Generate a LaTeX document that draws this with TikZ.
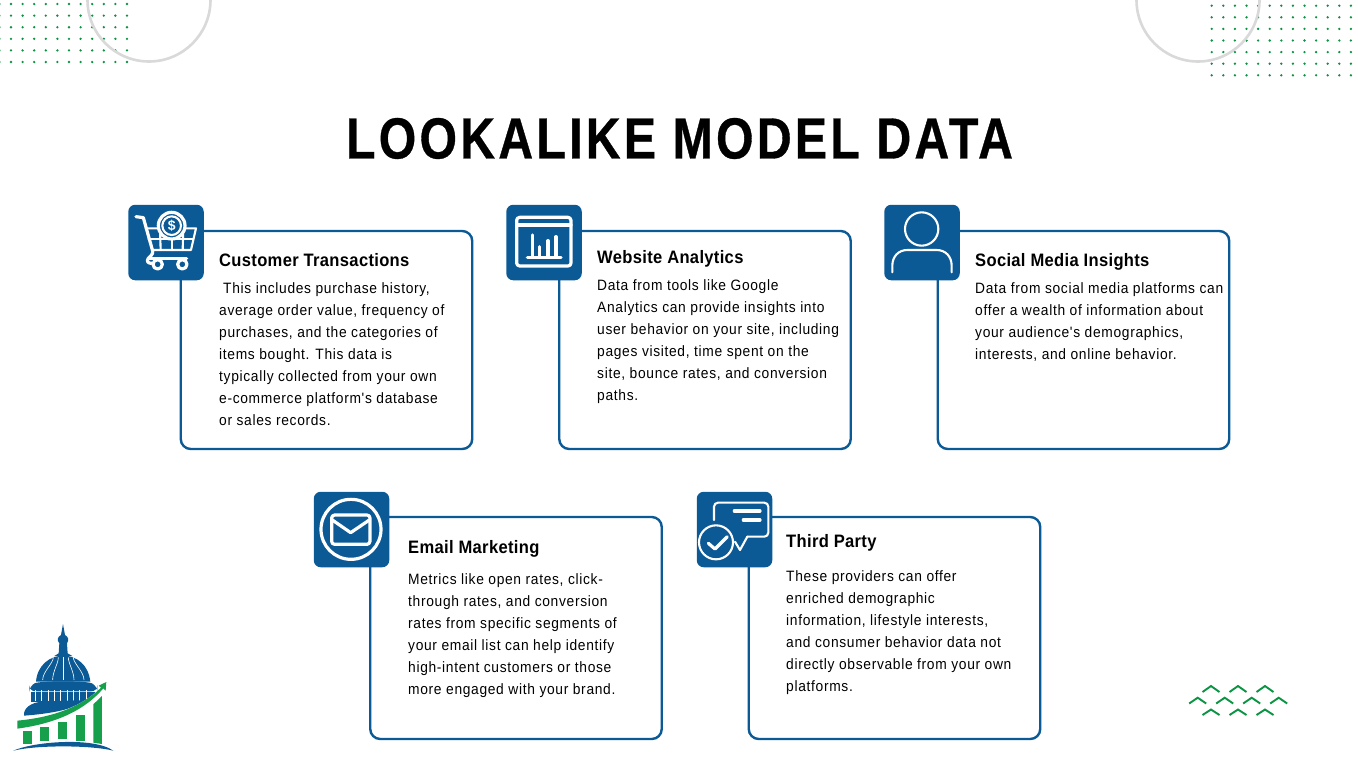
\documentclass[tikz,border=0pt]{standalone}
\usepackage{fontspec}
\setmainfont{Liberation Sans}
\newfontfamily\titlefont[FakeStretch=0.83,LetterSpace=5.7,FakeBold=0.6]{Liberation Sans}
\newfontfamily\headfont[FakeStretch=0.92,LetterSpace=1.8]{Liberation Sans}
\newfontfamily\bodyfont[FakeStretch=0.92,LetterSpace=4.5]{Liberation Sans}
\usetikzlibrary{positioning}
\definecolor{cardblue}{HTML}{0B5A96}
\definecolor{leafgreen}{HTML}{0B9444}
\definecolor{logogreen}{HTML}{17A04B}
\definecolor{ringgray}{HTML}{D9D9D9}

\begin{document}
\begin{tikzpicture}[
    x=1pt, y=-1pt,
    card/.style={draw=cardblue, line width=2.4pt, rounded corners=10pt, minimum width=291.5pt, outer sep=0pt, inner sep=0pt},
    upper card/.style={card, minimum height=218pt},
    lower card/.style={card, minimum height=222pt},
    iconbox/.style={fill=cardblue, rounded corners=7pt, minimum size=75.5pt, inner sep=0pt, outer sep=0pt},
    cardhead/.style={anchor=base west, inner sep=0pt, font=\headfont\bfseries\fontsize{18}{22}\selectfont},
    cardbody/.style={anchor=north west, inner sep=0pt, align=left, font=\bodyfont\fontsize{15}{22}\selectfont},
    iconview/.style 2 args={shift={(#1,#2)}, x=0.3333pt, y=-0.3333pt},
    iconline/.style={draw=white, line width=3.2pt, line cap=round, line join=round},
    thinline/.style={draw=white, line width=2.1pt, line cap=round, line join=round}
  ]
  \useasboundingbox (0,0) rectangle (1358,764);
  \fill[white] (0,0) rectangle (1358,764);

%% corner dots, the rings lie over them
  \foreach \col in {0,...,10} \foreach \row in {0,...,5}
    \fill[leafgreen] (11+11.6*\col,4+11.6*\row) circle (1.3pt);
  \foreach \row in {0,...,5} \fill[leafgreen!50] (0,4+11.6*\row) circle (1.1pt);
  \foreach \col in {0,...,12} \foreach \row in {0,...,6}
    \fill[leafgreen] (1211.7+11.6*\col,5.7+11.6*\row) circle (1.3pt);
  \draw[ringgray, line width=2.6pt] (149,0) circle (61.5);
  \draw[ringgray, line width=2.6pt] (1198,0) circle (61.5);

  \node[inner sep=0pt, font=\titlefont\bfseries\fontsize{58}{58}\selectfont] (title) at (679.5,138.5) {LOOKALIKE MODEL DATA};

%% top row of cards
  \node[upper card] (cardA) at (326.5,340) {};
  \node[upper card, right=87pt of cardA] (cardB) {};
  \node[upper card, right=87pt of cardB] (cardC) {};
%% bottom row of cards
  \node[lower card] (cardD) at (516,628) {};
  \node[lower card, right=87pt of cardD] (cardE) {};

  \node[iconbox] (iconA) at (166,242.5) {};
  \node[iconbox] (iconB) at (544,242.5) {};
  \node[iconbox] (iconC) at (922,242.5) {};
  \node[iconbox] (iconD) at (351.5,529.5) {};
  \node[iconbox] (iconE) at (734.5,529.5) {};

  \node[cardhead] (headA) at (219,266) {Customer Transactions};
  \node[cardbody, below=16.5pt of headA.base west, anchor=north west] (bodyA) {\hspace{4pt}This includes purchase history,\\average order value, frequency of\\purchases, and the categories of\\items bought. This data is\\typically collected from your own\\e-commerce platform's database\\or sales records.};

  \node[cardhead] (headB) at (597,263) {Website Analytics};
  \node[cardbody, below=16.5pt of headB.base west, anchor=north west] (bodyB) {Data from tools like Google\\Analytics can provide insights into\\user behavior on your site, including\\pages visited, time spent on the\\site, bounce rates, and conversion\\paths.};

  \node[cardhead] (headC) at (975,266) {Social Media Insights};
  \node[cardbody, below=16.5pt of headC.base west, anchor=north west] (bodyC) {Data from social media platforms can\\offer a wealth of information about\\your audience's demographics,\\interests, and online behavior.};

  \node[cardhead] (headD) at (408,553) {Email Marketing};
  \node[cardbody, below=20.5pt of headD.base west, anchor=north west] (bodyD) {Metrics like open rates, click-\\through rates, and conversion\\rates from specific segments of\\your email list can help identify\\high-intent customers or those\\more engaged with your brand.};

  \node[cardhead] (headE) at (786,547) {Third Party};
  \node[cardbody, below=23.5pt of headE.base west, anchor=north west] (bodyE) {These providers can offer\\enriched demographic\\information, lifestyle interests,\\and consumer behavior data not\\directly observable from your own\\platforms.};

%% cart
  \begin{scope}[iconview={120}{195}]
    \draw[iconline] (48,65) -- (70,68) -- (98,168) .. controls (100,180) and (90,182) .. (85,190) .. controls (78,200) and (85,205) .. (95,205);
    \draw[iconline] (85,190) -- (200,190);
    \draw[thinline] (77,100) -- (228,100) -- (213,165) -- (96,165);
    \draw[thinline] (85,132) -- (220,132);
    \foreach \xa/\xb in {120/122,155/155,190/188} \draw[thinline] (\xa,100) -- (\xb,165);
    \draw[iconline, fill=cardblue] (155,92) circle (40);
    \draw[thinline] (155,92) circle (28);
    \node[text=white, inner sep=0pt, font=\bfseries\fontsize{14}{14}\selectfont] (coin) at (155,92) {\$};
    \draw[iconline, fill=cardblue] (113,208) circle (14);
    \draw[iconline, fill=cardblue] (187,208) circle (14);
  \end{scope}

%% window with bars
  \begin{scope}[iconview={500}{195}]
    \draw[iconline, rounded corners=3pt] (50,67) rectangle (213,213);
    \draw[iconline] (50,90) -- (213,90);
    \draw[iconline] (82,187) -- (183,187);
    \foreach \xa/\ya in {97/120,119/155,144/137,168/125} \draw[iconline] (\xa,\ya) -- (\xa,187);
  \end{scope}

%% person
  \begin{scope}[iconview={880}{195}]
    \draw[thinline] (125,102) circle (50);
    \draw[thinline] (37,232) -- (37,212) .. controls (37,185) and (55,165) .. (82,165) -- (170,165) .. controls (197,165) and (215,185) .. (215,212) -- (215,232);
  \end{scope}

%% envelope
  \begin{scope}[iconview={305}{485}]
    \draw[iconline] (138,133) circle (90);
    \draw[iconline, rounded corners=3pt] (80,90) rectangle (195,178);
    \draw[iconline] (82,105) -- (137,143) -- (193,105);
  \end{scope}

%% speech bubble with check
  \begin{scope}[iconview={690}{485}]
    \draw[thinline, rounded corners=4pt] (72,105) -- (72,53) -- (235,53) -- (235,155) -- (172,155);
    \draw[thinline] (172,155) -- (150,195) -- (135,170);
    \draw[iconline] (133,78) -- (210,78);
    \draw[iconline] (160,105) -- (210,105);
    \draw[thinline] (78,172) circle (51);
    \draw[iconline] (55,175) -- (75,192) -- (112,155);
  \end{scope}

%% capitol logo
  \begin{scope}[iconview={0}{600}]
    \fill[cardblue] (189,72) -- (183,105) .. controls (173,110) and (170,120) .. (178,130) -- (176,160) -- (163,168) -- (217,168) -- (203,160) -- (201,130) .. controls (208,120) and (205,110) .. (195,105) -- cycle;
    \fill[cardblue] (108,245) .. controls (112,195) and (150,167) .. (190,167) .. controls (230,167) and (266,195) .. (271,245) -- cycle;
    \foreach \xa/\xb in {128/160,158/175,190/190,222/205,252/220}
      \draw[white, line width=0.6pt] (\xa,240) .. controls (\xa,215) and (\xb,190) .. (\xb,172);
    \fill[cardblue, rounded corners=6pt] (88,274) -- (88,258) .. controls (120,242) and (260,242) .. (292,258) -- (292,274) -- cycle;
    \fill[cardblue] (92,277) rectangle (285,306);
    \foreach \xa in {105,124,143,162,181,200,219,238,257}
      \fill[white] (\xa,270) rectangle (\xa+3,303);
    \fill[cardblue] (72,347) .. controls (70,325) and (90,308) .. (130,304) -- (270,300) .. controls (220,330) and (140,342) .. (72,347) -- cycle;
    \fill[white] (48,358) .. controls (160,350) and (250,320) .. (302,262) -- (320,290) .. controls (240,350) and (150,378) .. (48,392) -- cycle;
    \fill[logogreen] (52,386) -- (52,362) .. controls (160,352) and (245,320) .. (303,263) -- (296,257) -- (319,246) -- (317,272) -- (310,265) .. controls (255,330) and (170,370) .. (52,386) -- cycle;
    \foreach \xa/\ya/\yb in {68/392/432,121/381/423,174/366/418,227/346/422}
      \fill[logogreen] (\xa,\ya) rectangle (\xa+27,\yb);
    \fill[logogreen] (280,313) -- (306,288) -- (306,432) -- (280,428) -- cycle;
    \fill[cardblue] (40,452) .. controls (100,425) and (280,410) .. (340,452) .. controls (270,435) and (110,435) .. (40,452) -- cycle;
  \end{scope}

%% green chevrons
  \foreach \xa in {1211,1238,1265} {
    \draw[leafgreen, line width=1.9pt] (\xa-8.5,692) -- (\xa,686) -- (\xa+8.5,692);
    \draw[leafgreen, line width=1.9pt] (\xa-8.5,715) -- (\xa,709.5) -- (\xa+8.5,715);
  }
  \foreach \xa in {1197.7,1224.7,1251.7,1278.7}
    \draw[leafgreen, line width=1.9pt] (\xa-8.5,703.5) -- (\xa,697.7) -- (\xa+8.5,703.5);

\end{tikzpicture}
\end{document}
